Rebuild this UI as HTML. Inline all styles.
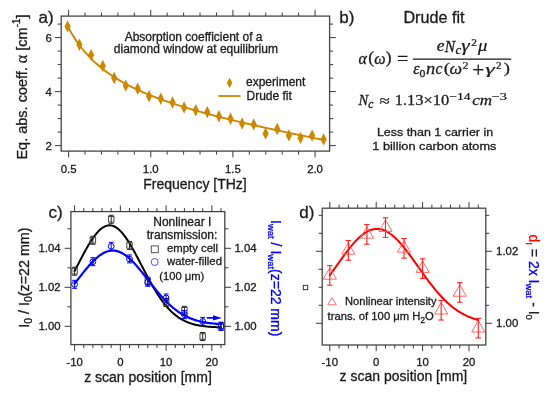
<!DOCTYPE html>
<html><head><meta charset="utf-8"><style>
html,body{margin:0;padding:0;background:#fff;width:550px;height:394px;overflow:hidden;}
svg{display:block;will-change:transform;}
</style></head><body>
<svg width="550" height="394" viewBox="0 0 550 394">
<rect x="0" y="0" width="550" height="394" fill="#fff"/>
<rect x="61.20" y="16.10" width="268.40" height="135.00" fill="none" stroke="#444444" stroke-width="1.3"/>
<line x1="68.60" y1="151.10" x2="68.60" y2="157.40" stroke="#3a3a3a" stroke-width="1"/>
<line x1="68.60" y1="16.10" x2="68.60" y2="9.80" stroke="#3a3a3a" stroke-width="1"/>
<line x1="150.75" y1="151.10" x2="150.75" y2="157.40" stroke="#3a3a3a" stroke-width="1"/>
<line x1="150.75" y1="16.10" x2="150.75" y2="9.80" stroke="#3a3a3a" stroke-width="1"/>
<line x1="232.90" y1="151.10" x2="232.90" y2="157.40" stroke="#3a3a3a" stroke-width="1"/>
<line x1="232.90" y1="16.10" x2="232.90" y2="9.80" stroke="#3a3a3a" stroke-width="1"/>
<line x1="315.05" y1="151.10" x2="315.05" y2="157.40" stroke="#3a3a3a" stroke-width="1"/>
<line x1="315.05" y1="16.10" x2="315.05" y2="9.80" stroke="#3a3a3a" stroke-width="1"/>
<line x1="85.03" y1="151.10" x2="85.03" y2="154.60" stroke="#3a3a3a" stroke-width="1"/>
<line x1="85.03" y1="16.10" x2="85.03" y2="12.60" stroke="#3a3a3a" stroke-width="1"/>
<line x1="101.46" y1="151.10" x2="101.46" y2="154.60" stroke="#3a3a3a" stroke-width="1"/>
<line x1="101.46" y1="16.10" x2="101.46" y2="12.60" stroke="#3a3a3a" stroke-width="1"/>
<line x1="117.89" y1="151.10" x2="117.89" y2="154.60" stroke="#3a3a3a" stroke-width="1"/>
<line x1="117.89" y1="16.10" x2="117.89" y2="12.60" stroke="#3a3a3a" stroke-width="1"/>
<line x1="134.32" y1="151.10" x2="134.32" y2="154.60" stroke="#3a3a3a" stroke-width="1"/>
<line x1="134.32" y1="16.10" x2="134.32" y2="12.60" stroke="#3a3a3a" stroke-width="1"/>
<line x1="167.18" y1="151.10" x2="167.18" y2="154.60" stroke="#3a3a3a" stroke-width="1"/>
<line x1="167.18" y1="16.10" x2="167.18" y2="12.60" stroke="#3a3a3a" stroke-width="1"/>
<line x1="183.61" y1="151.10" x2="183.61" y2="154.60" stroke="#3a3a3a" stroke-width="1"/>
<line x1="183.61" y1="16.10" x2="183.61" y2="12.60" stroke="#3a3a3a" stroke-width="1"/>
<line x1="200.04" y1="151.10" x2="200.04" y2="154.60" stroke="#3a3a3a" stroke-width="1"/>
<line x1="200.04" y1="16.10" x2="200.04" y2="12.60" stroke="#3a3a3a" stroke-width="1"/>
<line x1="216.47" y1="151.10" x2="216.47" y2="154.60" stroke="#3a3a3a" stroke-width="1"/>
<line x1="216.47" y1="16.10" x2="216.47" y2="12.60" stroke="#3a3a3a" stroke-width="1"/>
<line x1="249.33" y1="151.10" x2="249.33" y2="154.60" stroke="#3a3a3a" stroke-width="1"/>
<line x1="249.33" y1="16.10" x2="249.33" y2="12.60" stroke="#3a3a3a" stroke-width="1"/>
<line x1="265.76" y1="151.10" x2="265.76" y2="154.60" stroke="#3a3a3a" stroke-width="1"/>
<line x1="265.76" y1="16.10" x2="265.76" y2="12.60" stroke="#3a3a3a" stroke-width="1"/>
<line x1="282.19" y1="151.10" x2="282.19" y2="154.60" stroke="#3a3a3a" stroke-width="1"/>
<line x1="282.19" y1="16.10" x2="282.19" y2="12.60" stroke="#3a3a3a" stroke-width="1"/>
<line x1="298.62" y1="151.10" x2="298.62" y2="154.60" stroke="#3a3a3a" stroke-width="1"/>
<line x1="298.62" y1="16.10" x2="298.62" y2="12.60" stroke="#3a3a3a" stroke-width="1"/>
<line x1="54.90" y1="145.60" x2="61.20" y2="145.60" stroke="#3a3a3a" stroke-width="1"/>
<line x1="329.60" y1="145.60" x2="335.90" y2="145.60" stroke="#3a3a3a" stroke-width="1"/>
<line x1="54.90" y1="91.60" x2="61.20" y2="91.60" stroke="#3a3a3a" stroke-width="1"/>
<line x1="329.60" y1="91.60" x2="335.90" y2="91.60" stroke="#3a3a3a" stroke-width="1"/>
<line x1="54.90" y1="37.60" x2="61.20" y2="37.60" stroke="#3a3a3a" stroke-width="1"/>
<line x1="329.60" y1="37.60" x2="335.90" y2="37.60" stroke="#3a3a3a" stroke-width="1"/>
<line x1="57.70" y1="132.10" x2="61.20" y2="132.10" stroke="#3a3a3a" stroke-width="1"/>
<line x1="329.60" y1="132.10" x2="333.10" y2="132.10" stroke="#3a3a3a" stroke-width="1"/>
<line x1="57.70" y1="118.60" x2="61.20" y2="118.60" stroke="#3a3a3a" stroke-width="1"/>
<line x1="329.60" y1="118.60" x2="333.10" y2="118.60" stroke="#3a3a3a" stroke-width="1"/>
<line x1="57.70" y1="105.10" x2="61.20" y2="105.10" stroke="#3a3a3a" stroke-width="1"/>
<line x1="329.60" y1="105.10" x2="333.10" y2="105.10" stroke="#3a3a3a" stroke-width="1"/>
<line x1="57.70" y1="78.10" x2="61.20" y2="78.10" stroke="#3a3a3a" stroke-width="1"/>
<line x1="329.60" y1="78.10" x2="333.10" y2="78.10" stroke="#3a3a3a" stroke-width="1"/>
<line x1="57.70" y1="64.60" x2="61.20" y2="64.60" stroke="#3a3a3a" stroke-width="1"/>
<line x1="329.60" y1="64.60" x2="333.10" y2="64.60" stroke="#3a3a3a" stroke-width="1"/>
<line x1="57.70" y1="51.10" x2="61.20" y2="51.10" stroke="#3a3a3a" stroke-width="1"/>
<line x1="329.60" y1="51.10" x2="333.10" y2="51.10" stroke="#3a3a3a" stroke-width="1"/>
<line x1="57.70" y1="24.10" x2="61.20" y2="24.10" stroke="#3a3a3a" stroke-width="1"/>
<line x1="329.60" y1="24.10" x2="333.10" y2="24.10" stroke="#3a3a3a" stroke-width="1"/>
<text x="51.80" y="149.70" font-size="11.4" text-anchor="end" fill="#1a1a1a" stroke="#1a1a1a" stroke-width="0.3" font-family='"Liberation Sans", sans-serif' >2</text>
<text x="51.80" y="95.70" font-size="11.4" text-anchor="end" fill="#1a1a1a" stroke="#1a1a1a" stroke-width="0.3" font-family='"Liberation Sans", sans-serif' >4</text>
<text x="51.80" y="41.70" font-size="11.4" text-anchor="end" fill="#1a1a1a" stroke="#1a1a1a" stroke-width="0.3" font-family='"Liberation Sans", sans-serif' >6</text>
<text x="68.60" y="173.00" font-size="11.4" text-anchor="middle" fill="#1a1a1a" stroke="#1a1a1a" stroke-width="0.3" font-family='"Liberation Sans", sans-serif' >0.5</text>
<text x="150.75" y="173.00" font-size="11.4" text-anchor="middle" fill="#1a1a1a" stroke="#1a1a1a" stroke-width="0.3" font-family='"Liberation Sans", sans-serif' >1.0</text>
<text x="232.90" y="173.00" font-size="11.4" text-anchor="middle" fill="#1a1a1a" stroke="#1a1a1a" stroke-width="0.3" font-family='"Liberation Sans", sans-serif' >1.5</text>
<text x="315.05" y="173.00" font-size="11.4" text-anchor="middle" fill="#1a1a1a" stroke="#1a1a1a" stroke-width="0.3" font-family='"Liberation Sans", sans-serif' >2.0</text>
<text x="195.00" y="188.80" font-size="14" text-anchor="middle" fill="#1a1a1a" stroke="#1a1a1a" stroke-width="0.3" font-family='"Liberation Sans", sans-serif' >Frequency [THz]</text>
<text transform="translate(27.0,87.0) rotate(-90)" font-size="14.5" text-anchor="middle" fill="#1a1a1a" stroke="#1a1a1a" stroke-width="0.3" font-family='"Liberation Sans", sans-serif'>Eq. abs. coeff. <tspan font-family='"Liberation Serif", serif' font-size="16">&#945;</tspan> [cm<tspan font-size="10" dy="-7">-1</tspan><tspan dy="7">]</tspan></text>
<text x="193.60" y="40.50" font-size="12" text-anchor="middle" fill="#1a1a1a" stroke="#1a1a1a" stroke-width="0.3" font-family='"Liberation Sans", sans-serif' >Absorption coefficient of a</text>
<text x="195.90" y="53.30" font-size="12" text-anchor="middle" fill="#1a1a1a" stroke="#1a1a1a" stroke-width="0.3" font-family='"Liberation Sans", sans-serif' >diamond window at equilibrium</text>
<text x="38.50" y="23.30" font-size="17" text-anchor="start" fill="#1a1a1a" stroke="#1a1a1a" stroke-width="0.3" font-family='"Liberation Sans", sans-serif' >a)</text>
<path d="M67.60,26.21 L69.21,29.19 L70.82,32.03 L72.43,34.73 L74.04,37.30 L75.65,39.75 L77.26,42.10 L78.87,44.34 L80.48,46.48 L82.09,48.53 L83.70,50.51 L85.31,52.40 L86.92,54.21 L88.53,55.96 L90.14,57.65 L91.75,59.27 L93.36,60.83 L94.97,62.34 L96.58,63.80 L98.19,65.21 L99.80,66.58 L101.41,67.90 L103.02,69.18 L104.63,70.42 L106.24,71.63 L107.85,72.79 L109.46,73.93 L111.07,75.04 L112.68,76.11 L114.29,77.16 L115.90,78.18 L117.51,79.17 L119.12,80.14 L120.73,81.08 L122.34,82.00 L123.95,82.90 L125.56,83.78 L127.17,84.65 L128.78,85.49 L130.39,86.31 L132.00,87.12 L133.61,87.91 L135.22,88.68 L136.83,89.44 L138.44,90.19 L140.05,90.92 L141.66,91.64 L143.27,92.34 L144.88,93.03 L146.49,93.71 L148.10,94.38 L149.71,95.04 L151.32,95.69 L152.93,96.32 L154.54,96.95 L156.15,97.57 L157.76,98.18 L159.37,98.78 L160.98,99.37 L162.59,99.95 L164.20,100.53 L165.81,101.10 L167.42,101.66 L169.03,102.21 L170.64,102.76 L172.25,103.29 L173.86,103.83 L175.47,104.35 L177.08,104.88 L178.69,105.39 L180.30,105.90 L181.91,106.40 L183.52,106.90 L185.13,107.40 L186.74,107.88 L188.35,108.37 L189.96,108.85 L191.57,109.32 L193.18,109.79 L194.79,110.26 L196.41,110.72 L198.02,111.17 L199.63,111.63 L201.24,112.08 L202.85,112.52 L204.46,112.97 L206.07,113.40 L207.68,113.84 L209.29,114.27 L210.90,114.70 L212.51,115.13 L214.12,115.55 L215.73,115.97 L217.34,116.38 L218.95,116.80 L220.56,117.21 L222.17,117.62 L223.78,118.02 L225.39,118.43 L227.00,118.83 L228.61,119.23 L230.22,119.62 L231.83,120.02 L233.44,120.41 L235.05,120.80 L236.66,121.18 L238.27,121.57 L239.88,121.95 L241.49,122.33 L243.10,122.71 L244.71,123.09 L246.32,123.47 L247.93,123.84 L249.54,124.21 L251.15,124.58 L252.76,124.95 L254.37,125.32 L255.98,125.68 L257.59,126.04 L259.20,126.41 L260.81,126.77 L262.42,127.13 L264.03,127.48 L265.64,127.84 L267.25,128.19 L268.86,128.55 L270.47,128.90 L272.08,129.25 L273.69,129.60 L275.30,129.95 L276.91,130.30 L278.52,130.64 L280.13,130.99 L281.74,131.33 L283.35,131.67 L284.96,132.01 L286.57,132.35 L288.18,132.69 L289.79,133.03 L291.40,133.37 L293.01,133.71 L294.62,134.04 L296.23,134.38 L297.84,134.71 L299.45,135.04 L301.06,135.37 L302.67,135.70 L304.28,136.03 L305.89,136.36 L307.50,136.69 L309.11,137.02 L310.72,137.34 L312.33,137.67 L313.94,137.99 L315.55,138.32 L317.16,138.64 L318.77,138.97 L320.38,139.29 L321.99,139.61 L323.60,139.93" fill="none" stroke="#cc8800" stroke-width="1.9" stroke-linejoin="round" stroke-linecap="round"/>
<path d="M67.60,20.20 L70.70,26.40 L67.60,32.60 L64.50,26.40 Z" fill="#cc8800"/>
<path d="M79.40,38.50 L82.50,44.70 L79.40,50.90 L76.30,44.70 Z" fill="#cc8800"/>
<path d="M91.10,48.90 L94.20,55.10 L91.10,61.30 L88.00,55.10 Z" fill="#cc8800"/>
<path d="M102.80,59.80 L105.90,66.00 L102.80,72.20 L99.70,66.00 Z" fill="#cc8800"/>
<path d="M114.20,71.80 L117.30,78.00 L114.20,84.20 L111.10,78.00 Z" fill="#cc8800"/>
<path d="M125.80,79.40 L128.90,85.60 L125.80,91.80 L122.70,85.60 Z" fill="#cc8800"/>
<path d="M137.70,82.50 L140.80,88.70 L137.70,94.90 L134.60,88.70 Z" fill="#cc8800"/>
<path d="M149.10,90.00 L152.20,96.20 L149.10,102.40 L146.00,96.20 Z" fill="#cc8800"/>
<path d="M160.80,92.60 L163.90,98.80 L160.80,105.00 L157.70,98.80 Z" fill="#cc8800"/>
<path d="M172.50,96.30 L175.60,102.50 L172.50,108.70 L169.40,102.50 Z" fill="#cc8800"/>
<path d="M184.10,101.20 L187.20,107.40 L184.10,113.60 L181.00,107.40 Z" fill="#cc8800"/>
<path d="M195.70,104.00 L198.80,110.20 L195.70,116.40 L192.60,110.20 Z" fill="#cc8800"/>
<path d="M207.30,105.90 L210.40,112.10 L207.30,118.30 L204.20,112.10 Z" fill="#cc8800"/>
<path d="M218.90,110.10 L222.00,116.30 L218.90,122.50 L215.80,116.30 Z" fill="#cc8800"/>
<path d="M230.50,112.60 L233.60,118.80 L230.50,125.00 L227.40,118.80 Z" fill="#cc8800"/>
<path d="M242.10,117.30 L245.20,123.50 L242.10,129.70 L239.00,123.50 Z" fill="#cc8800"/>
<path d="M253.70,118.20 L256.80,124.40 L253.70,130.60 L250.60,124.40 Z" fill="#cc8800"/>
<path d="M265.60,127.40 L268.70,133.60 L265.60,139.80 L262.50,133.60 Z" fill="#cc8800"/>
<path d="M277.20,122.80 L280.30,129.00 L277.20,135.20 L274.10,129.00 Z" fill="#cc8800"/>
<path d="M288.90,129.20 L292.00,135.40 L288.90,141.60 L285.80,135.40 Z" fill="#cc8800"/>
<path d="M300.50,131.70 L303.60,137.90 L300.50,144.10 L297.40,137.90 Z" fill="#cc8800"/>
<path d="M312.10,129.40 L315.20,135.60 L312.10,141.80 L309.00,135.60 Z" fill="#cc8800"/>
<path d="M323.60,133.20 L326.70,139.40 L323.60,145.60 L320.50,139.40 Z" fill="#cc8800"/>
<path d="M229.60,77.70 L232.40,82.90 L229.60,88.10 L226.80,82.90 Z" fill="#cc8800"/>
<text x="246.00" y="86.20" font-size="12" text-anchor="start" fill="#1a1a1a" stroke="#1a1a1a" stroke-width="0.3" font-family='"Liberation Sans", sans-serif' >experiment</text>
<line x1="218.30" y1="96.00" x2="240.50" y2="96.00" stroke="#cc8800" stroke-width="1.8"/>
<text x="246.50" y="99.90" font-size="12" text-anchor="start" fill="#1a1a1a" stroke="#1a1a1a" stroke-width="0.3" font-family='"Liberation Sans", sans-serif' >Drude fit</text>
<text x="339.30" y="23.20" font-size="17" text-anchor="start" fill="#1a1a1a" stroke="#1a1a1a" stroke-width="0.3" font-family='"Liberation Sans", sans-serif' >b)</text>
<text x="403.40" y="22.50" font-size="15.6" text-anchor="start" fill="#1a1a1a" stroke="#1a1a1a" stroke-width="0.3" font-family='"Liberation Sans", sans-serif' textLength="61.2" lengthAdjust="spacingAndGlyphs">Drude fit</text>
<text x="376.90" y="135.70" font-size="11.6" text-anchor="start" fill="#1a1a1a" stroke="#1a1a1a" stroke-width="0.3" font-family='"Liberation Sans", sans-serif' textLength="116.2" lengthAdjust="spacingAndGlyphs">Less than 1 carrier in</text>
<text x="372.30" y="150.20" font-size="11.6" text-anchor="start" fill="#1a1a1a" stroke="#1a1a1a" stroke-width="0.3" font-family='"Liberation Sans", sans-serif' textLength="124.1" lengthAdjust="spacingAndGlyphs">1 billion carbon atoms</text>
<text transform="translate(358.52,63.74) scale(0.977,1)" font-size="16.39" font-family='"Liberation Serif", serif' font-style="italic" fill="#1a1a1a" stroke="#1a1a1a" stroke-width="0.31">&#945;</text>
<text transform="translate(368.33,62.94) scale(1.076,1)" font-size="16.34" font-family='"Liberation Serif", serif' fill="#1a1a1a" stroke="#1a1a1a" stroke-width="0.28">(</text>
<text transform="translate(374.25,63.73) scale(0.973,1)" font-size="16.53" font-family='"Liberation Serif", serif' font-style="italic" fill="#1a1a1a" stroke="#1a1a1a" stroke-width="0.31">&#969;</text>
<text transform="translate(385.84,62.94) scale(1.068,1)" font-size="16.34" font-family='"Liberation Serif", serif' fill="#1a1a1a" stroke="#1a1a1a" stroke-width="0.28">)</text>
<text transform="translate(396.90,65.44) scale(1.109,1)" font-size="18.00" font-family='"Liberation Serif", serif' fill="#1a1a1a" stroke="#1a1a1a" stroke-width="0.27">=</text>
<text transform="translate(436.78,51.44) scale(1.086,1)" font-size="15.98" font-family='"Liberation Serif", serif' font-style="italic" fill="#1a1a1a" stroke="#1a1a1a" stroke-width="0.28">e</text>
<text transform="translate(444.72,51.60) scale(0.975,1)" font-size="15.90" font-family='"Liberation Serif", serif' font-style="italic" fill="#1a1a1a" stroke="#1a1a1a" stroke-width="0.31">N</text>
<text transform="translate(455.41,54.28) scale(1.075,1)" font-size="12.03" font-family='"Liberation Serif", serif' font-style="italic" fill="#1a1a1a" stroke="#1a1a1a" stroke-width="0.28">c</text>
<text transform="translate(461.22,51.26) scale(1.354,1)" font-size="15.77" font-family='"Liberation Serif", serif' font-style="italic" fill="#1a1a1a" stroke="#1a1a1a" stroke-width="0.22">&#947;</text>
<text transform="translate(471.20,45.90) scale(1.182,1)" font-size="9.52" font-family='"Liberation Serif", serif' fill="#1a1a1a" stroke="#1a1a1a" stroke-width="0.25">2</text>
<text transform="translate(478.00,51.23) scale(1.182,1)" font-size="15.73" font-family='"Liberation Serif", serif' font-style="italic" fill="#1a1a1a" stroke="#1a1a1a" stroke-width="0.25">&#956;</text>
<text transform="translate(413.25,73.74) scale(1.011,1)" font-size="15.77" font-family='"Liberation Serif", serif' font-style="italic" fill="#1a1a1a" stroke="#1a1a1a" stroke-width="0.30">&#949;</text>
<text transform="translate(419.45,77.29) scale(1.063,1)" font-size="11.09" font-family='"Liberation Serif", serif' fill="#1a1a1a" stroke="#1a1a1a" stroke-width="0.28">0</text>
<text transform="translate(426.03,73.90) scale(1.148,1)" font-size="16.10" font-family='"Liberation Serif", serif' font-style="italic" fill="#1a1a1a" stroke="#1a1a1a" stroke-width="0.26">n</text>
<text transform="translate(435.44,73.74) scale(0.978,1)" font-size="15.77" font-family='"Liberation Serif", serif' font-style="italic" fill="#1a1a1a" stroke="#1a1a1a" stroke-width="0.31">c</text>
<text transform="translate(443.78,73.37) scale(1.231,1)" font-size="15.23" font-family='"Liberation Serif", serif' fill="#1a1a1a" stroke="#1a1a1a" stroke-width="0.24">(</text>
<text transform="translate(449.59,74.04) scale(1.122,1)" font-size="15.90" font-family='"Liberation Serif", serif' font-style="italic" fill="#1a1a1a" stroke="#1a1a1a" stroke-width="0.27">&#969;</text>
<text transform="translate(462.47,69.30) scale(1.261,1)" font-size="9.52" font-family='"Liberation Serif", serif' fill="#1a1a1a" stroke="#1a1a1a" stroke-width="0.24">2</text>
<text transform="translate(472.57,77.22) scale(1.000,1)" font-size="20.60" font-family='"Liberation Serif", serif' fill="#1a1a1a" stroke="#1a1a1a" stroke-width="0.30">+</text>
<text transform="translate(485.27,73.85) scale(1.574,1)" font-size="15.33" font-family='"Liberation Serif", serif' font-style="italic" fill="#1a1a1a" stroke="#1a1a1a" stroke-width="0.19">&#947;</text>
<text transform="translate(496.00,69.30) scale(1.182,1)" font-size="9.52" font-family='"Liberation Serif", serif' fill="#1a1a1a" stroke="#1a1a1a" stroke-width="0.25">2</text>
<text transform="translate(503.80,73.37) scale(1.221,1)" font-size="15.23" font-family='"Liberation Serif", serif' fill="#1a1a1a" stroke="#1a1a1a" stroke-width="0.25">)</text>
<text transform="translate(358.42,105.40) scale(0.942,1)" font-size="15.44" font-family='"Liberation Serif", serif' font-style="italic" fill="#1a1a1a" stroke="#1a1a1a" stroke-width="0.32">N</text>
<text transform="translate(368.26,107.87) scale(0.890,1)" font-size="12.86" font-family='"Liberation Serif", serif' font-style="italic" fill="#1a1a1a" stroke="#1a1a1a" stroke-width="0.34">c</text>
<text transform="translate(379.57,106.13) scale(1.193,1)" font-size="15.76" font-family='"Liberation Serif", serif' fill="#1a1a1a" stroke="#1a1a1a" stroke-width="0.25">&#8776;</text>
<text transform="translate(394.65,105.29) scale(1.087,1)" font-size="15.15" font-family='"Liberation Serif", serif' fill="#1a1a1a" stroke="#1a1a1a" stroke-width="0.28">1.13&#215;10</text>
<text transform="translate(449.42,100.10) scale(1.315,1)" font-size="10.30" font-family='"Liberation Serif", serif' fill="#1a1a1a" stroke="#1a1a1a" stroke-width="0.23">&#8722;14</text>
<text transform="translate(472.29,105.36) scale(1.188,1)" font-size="14.32" font-family='"Liberation Serif", serif' font-style="italic" fill="#1a1a1a" stroke="#1a1a1a" stroke-width="0.25">cm</text>
<text transform="translate(491.78,100.00) scale(1.420,1)" font-size="10.12" font-family='"Liberation Serif", serif' fill="#1a1a1a" stroke="#1a1a1a" stroke-width="0.21">&#8722;3</text>
<line x1="412.9" y1="59.1" x2="511.2" y2="59.1" stroke="#1a1a1a" stroke-width="1.1"/>
<rect x="70.90" y="211.60" width="153.90" height="133.00" fill="none" stroke="#444444" stroke-width="1.3"/>
<line x1="74.60" y1="344.60" x2="74.60" y2="350.90" stroke="#3a3a3a" stroke-width="1"/>
<line x1="74.60" y1="211.60" x2="74.60" y2="205.30" stroke="#3a3a3a" stroke-width="1"/>
<line x1="120.35" y1="344.60" x2="120.35" y2="350.90" stroke="#3a3a3a" stroke-width="1"/>
<line x1="120.35" y1="211.60" x2="120.35" y2="205.30" stroke="#3a3a3a" stroke-width="1"/>
<line x1="166.10" y1="344.60" x2="166.10" y2="350.90" stroke="#3a3a3a" stroke-width="1"/>
<line x1="166.10" y1="211.60" x2="166.10" y2="205.30" stroke="#3a3a3a" stroke-width="1"/>
<line x1="211.85" y1="344.60" x2="211.85" y2="350.90" stroke="#3a3a3a" stroke-width="1"/>
<line x1="211.85" y1="211.60" x2="211.85" y2="205.30" stroke="#3a3a3a" stroke-width="1"/>
<line x1="83.75" y1="344.60" x2="83.75" y2="348.10" stroke="#3a3a3a" stroke-width="1"/>
<line x1="83.75" y1="211.60" x2="83.75" y2="208.10" stroke="#3a3a3a" stroke-width="1"/>
<line x1="92.90" y1="344.60" x2="92.90" y2="348.10" stroke="#3a3a3a" stroke-width="1"/>
<line x1="92.90" y1="211.60" x2="92.90" y2="208.10" stroke="#3a3a3a" stroke-width="1"/>
<line x1="102.05" y1="344.60" x2="102.05" y2="348.10" stroke="#3a3a3a" stroke-width="1"/>
<line x1="102.05" y1="211.60" x2="102.05" y2="208.10" stroke="#3a3a3a" stroke-width="1"/>
<line x1="111.20" y1="344.60" x2="111.20" y2="348.10" stroke="#3a3a3a" stroke-width="1"/>
<line x1="111.20" y1="211.60" x2="111.20" y2="208.10" stroke="#3a3a3a" stroke-width="1"/>
<line x1="129.50" y1="344.60" x2="129.50" y2="348.10" stroke="#3a3a3a" stroke-width="1"/>
<line x1="129.50" y1="211.60" x2="129.50" y2="208.10" stroke="#3a3a3a" stroke-width="1"/>
<line x1="138.65" y1="344.60" x2="138.65" y2="348.10" stroke="#3a3a3a" stroke-width="1"/>
<line x1="138.65" y1="211.60" x2="138.65" y2="208.10" stroke="#3a3a3a" stroke-width="1"/>
<line x1="147.80" y1="344.60" x2="147.80" y2="348.10" stroke="#3a3a3a" stroke-width="1"/>
<line x1="147.80" y1="211.60" x2="147.80" y2="208.10" stroke="#3a3a3a" stroke-width="1"/>
<line x1="156.95" y1="344.60" x2="156.95" y2="348.10" stroke="#3a3a3a" stroke-width="1"/>
<line x1="156.95" y1="211.60" x2="156.95" y2="208.10" stroke="#3a3a3a" stroke-width="1"/>
<line x1="175.25" y1="344.60" x2="175.25" y2="348.10" stroke="#3a3a3a" stroke-width="1"/>
<line x1="175.25" y1="211.60" x2="175.25" y2="208.10" stroke="#3a3a3a" stroke-width="1"/>
<line x1="184.40" y1="344.60" x2="184.40" y2="348.10" stroke="#3a3a3a" stroke-width="1"/>
<line x1="184.40" y1="211.60" x2="184.40" y2="208.10" stroke="#3a3a3a" stroke-width="1"/>
<line x1="193.55" y1="344.60" x2="193.55" y2="348.10" stroke="#3a3a3a" stroke-width="1"/>
<line x1="193.55" y1="211.60" x2="193.55" y2="208.10" stroke="#3a3a3a" stroke-width="1"/>
<line x1="202.70" y1="344.60" x2="202.70" y2="348.10" stroke="#3a3a3a" stroke-width="1"/>
<line x1="202.70" y1="211.60" x2="202.70" y2="208.10" stroke="#3a3a3a" stroke-width="1"/>
<line x1="221.00" y1="344.60" x2="221.00" y2="348.10" stroke="#3a3a3a" stroke-width="1"/>
<line x1="221.00" y1="211.60" x2="221.00" y2="208.10" stroke="#3a3a3a" stroke-width="1"/>
<line x1="64.60" y1="326.30" x2="70.90" y2="326.30" stroke="#3a3a3a" stroke-width="1"/>
<line x1="224.80" y1="326.30" x2="231.10" y2="326.30" stroke="#3a3a3a" stroke-width="1"/>
<line x1="64.60" y1="287.30" x2="70.90" y2="287.30" stroke="#3a3a3a" stroke-width="1"/>
<line x1="224.80" y1="287.30" x2="231.10" y2="287.30" stroke="#3a3a3a" stroke-width="1"/>
<line x1="64.60" y1="248.30" x2="70.90" y2="248.30" stroke="#3a3a3a" stroke-width="1"/>
<line x1="224.80" y1="248.30" x2="231.10" y2="248.30" stroke="#3a3a3a" stroke-width="1"/>
<line x1="67.40" y1="306.80" x2="70.90" y2="306.80" stroke="#3a3a3a" stroke-width="1"/>
<line x1="224.80" y1="306.80" x2="228.30" y2="306.80" stroke="#3a3a3a" stroke-width="1"/>
<line x1="67.40" y1="267.80" x2="70.90" y2="267.80" stroke="#3a3a3a" stroke-width="1"/>
<line x1="224.80" y1="267.80" x2="228.30" y2="267.80" stroke="#3a3a3a" stroke-width="1"/>
<line x1="67.40" y1="228.80" x2="70.90" y2="228.80" stroke="#3a3a3a" stroke-width="1"/>
<line x1="224.80" y1="228.80" x2="228.30" y2="228.80" stroke="#3a3a3a" stroke-width="1"/>
<text x="60.70" y="330.40" font-size="11.4" text-anchor="end" fill="#1a1a1a" stroke="#1a1a1a" stroke-width="0.3" font-family='"Liberation Sans", sans-serif' >1.00</text>
<text x="234.50" y="330.40" font-size="11.4" text-anchor="start" fill="#1a1a1a" stroke="#1a1a1a" stroke-width="0.3" font-family='"Liberation Sans", sans-serif' >1.00</text>
<text x="60.70" y="291.40" font-size="11.4" text-anchor="end" fill="#1a1a1a" stroke="#1a1a1a" stroke-width="0.3" font-family='"Liberation Sans", sans-serif' >1.02</text>
<text x="234.50" y="291.40" font-size="11.4" text-anchor="start" fill="#1a1a1a" stroke="#1a1a1a" stroke-width="0.3" font-family='"Liberation Sans", sans-serif' >1.02</text>
<text x="60.70" y="252.40" font-size="11.4" text-anchor="end" fill="#1a1a1a" stroke="#1a1a1a" stroke-width="0.3" font-family='"Liberation Sans", sans-serif' >1.04</text>
<text x="234.50" y="252.40" font-size="11.4" text-anchor="start" fill="#1a1a1a" stroke="#1a1a1a" stroke-width="0.3" font-family='"Liberation Sans", sans-serif' >1.04</text>
<text x="74.60" y="365.80" font-size="11.4" text-anchor="middle" fill="#1a1a1a" stroke="#1a1a1a" stroke-width="0.3" font-family='"Liberation Sans", sans-serif' >-10</text>
<text x="120.35" y="365.80" font-size="11.4" text-anchor="middle" fill="#1a1a1a" stroke="#1a1a1a" stroke-width="0.3" font-family='"Liberation Sans", sans-serif' >0</text>
<text x="166.10" y="365.80" font-size="11.4" text-anchor="middle" fill="#1a1a1a" stroke="#1a1a1a" stroke-width="0.3" font-family='"Liberation Sans", sans-serif' >10</text>
<text x="211.85" y="365.80" font-size="11.4" text-anchor="middle" fill="#1a1a1a" stroke="#1a1a1a" stroke-width="0.3" font-family='"Liberation Sans", sans-serif' >20</text>
<text x="148.00" y="381.70" font-size="14" text-anchor="middle" fill="#1a1a1a" stroke="#1a1a1a" stroke-width="0.3" font-family='"Liberation Sans", sans-serif' >z scan position [mm]</text>
<text x="48.60" y="217.80" font-size="17" text-anchor="start" fill="#1a1a1a" stroke="#1a1a1a" stroke-width="0.3" font-family='"Liberation Sans", sans-serif' >c)</text>
<text transform="translate(28.5,277.6) rotate(-90)" font-size="14.3" text-anchor="middle" fill="#1a1a1a" stroke="#1a1a1a" stroke-width="0.3" font-family='"Liberation Sans", sans-serif'>I<tspan font-size="10.5" dy="3">0</tspan><tspan dy="-3"> / I</tspan><tspan font-size="10.5" dy="3">0</tspan><tspan dy="-3">(z=22 mm)</tspan></text>
<text transform="translate(270.8,278.2) rotate(90)" font-size="14" text-anchor="middle" fill="#0000ee" stroke="#0000ee" stroke-width="0.3" font-family='"Liberation Sans", sans-serif'>I<tspan font-size="9.5" dy="3">wat</tspan><tspan dy="-3"> / I</tspan><tspan font-size="9.5" dy="3">wat</tspan><tspan dy="-3">(z=22 mm)</tspan></text>
<text x="182.30" y="225.80" font-size="12" text-anchor="middle" fill="#1a1a1a" stroke="#1a1a1a" stroke-width="0.3" font-family='"Liberation Sans", sans-serif' >Nonlinear I</text>
<text x="182.00" y="239.40" font-size="12" text-anchor="middle" fill="#1a1a1a" stroke="#1a1a1a" stroke-width="0.3" font-family='"Liberation Sans", sans-serif' >transmission:</text>
<rect x="151.3" y="245.9" width="7" height="6.8" fill="none" stroke="#555" stroke-width="1"/>
<text x="167.00" y="252.00" font-size="11.6" text-anchor="start" fill="#1a1a1a" stroke="#1a1a1a" stroke-width="0.3" font-family='"Liberation Sans", sans-serif' textLength="51.1" lengthAdjust="spacingAndGlyphs">empty cell</text>
<circle cx="154.7" cy="262.0" r="3.5" fill="none" stroke="#4c4cff" stroke-width="1"/>
<text x="167.00" y="265.30" font-size="11.6" text-anchor="start" fill="#1a1a1a" stroke="#1a1a1a" stroke-width="0.3" font-family='"Liberation Sans", sans-serif' textLength="55.0" lengthAdjust="spacingAndGlyphs">water-filled</text>
<text x="159.20" y="279.50" font-size="11.6" text-anchor="start" fill="#1a1a1a" stroke="#1a1a1a" stroke-width="0.3" font-family='"Liberation Sans", sans-serif' textLength="45.1" lengthAdjust="spacingAndGlyphs">(100 &#956;m)</text>
<path d="M74.60,271.05 L75.58,269.16 L76.57,267.27 L77.55,265.37 L78.53,263.47 L79.51,261.58 L80.50,259.69 L81.48,257.82 L82.46,255.96 L83.44,254.12 L84.43,252.30 L85.41,250.51 L86.39,248.75 L87.37,247.03 L88.36,245.35 L89.34,243.71 L90.32,242.12 L91.30,240.58 L92.29,239.09 L93.27,237.66 L94.25,236.30 L95.23,235.00 L96.22,233.77 L97.20,232.62 L98.18,231.54 L99.16,230.54 L100.15,229.62 L101.13,228.78 L102.11,228.03 L103.09,227.37 L104.08,226.80 L105.06,226.32 L106.04,225.93 L107.02,225.64 L108.01,225.44 L108.99,225.34 L109.97,225.33 L110.95,225.42 L111.94,225.60 L112.92,225.88 L113.90,226.26 L114.88,226.72 L115.87,227.28 L116.85,227.93 L117.83,228.67 L118.81,229.49 L119.80,230.40 L120.78,231.39 L121.76,232.46 L122.74,233.61 L123.73,234.82 L124.71,236.11 L125.69,237.47 L126.68,238.89 L127.66,240.36 L128.64,241.90 L129.62,243.48 L130.61,245.11 L131.59,246.79 L132.57,248.51 L133.55,250.26 L134.54,252.05 L135.52,253.86 L136.50,255.70 L137.48,257.55 L138.47,259.43 L139.45,261.31 L140.43,263.20 L141.41,265.10 L142.40,267.00 L143.38,268.89 L144.36,270.78 L145.34,272.66 L146.33,274.53 L147.31,276.38 L148.29,278.22 L149.27,280.03 L150.26,281.82 L151.24,283.58 L152.22,285.31 L153.20,287.02 L154.19,288.69 L155.17,290.33 L156.15,291.93 L157.13,293.49 L158.12,295.02 L159.10,296.51 L160.08,297.96 L161.06,299.36 L162.05,300.73 L163.03,302.05 L164.01,303.33 L164.99,304.57 L165.98,305.76 L166.96,306.91 L167.94,308.02 L168.92,309.09 L169.91,310.11 L170.89,311.10 L171.87,312.04 L172.86,312.94 L173.84,313.81 L174.82,314.63 L175.80,315.42 L176.79,316.17 L177.77,316.88 L178.75,317.56 L179.73,318.20 L180.72,318.81 L181.70,319.39 L182.68,319.93 L183.66,320.45 L184.65,320.94 L185.63,321.40 L186.61,321.83 L187.59,322.24 L188.58,322.63 L189.56,322.99 L190.54,323.32 L191.52,323.64 L192.51,323.94 L193.49,324.21 L194.47,324.47 L195.45,324.72 L196.44,324.94 L197.42,325.15 L198.40,325.34 L199.38,325.53 L200.37,325.69 L201.35,325.85 L202.33,325.99 L203.31,326.13 L204.30,326.25 L205.28,326.36 L206.26,326.47 L207.24,326.57 L208.23,326.65 L209.21,326.74 L210.19,326.81 L211.17,326.88 L212.16,326.94 L213.14,327.00 L214.12,327.05 L215.10,327.10 L216.09,327.15 L217.07,327.19 L218.05,327.22 L219.03,327.26 L220.02,327.29 L221.00,327.31" fill="none" stroke="#000" stroke-width="2.0" stroke-linejoin="round" stroke-linecap="round"/>
<path d="M74.60,283.60 L75.58,282.35 L76.57,281.09 L77.55,279.84 L78.53,278.58 L79.51,277.32 L80.50,276.07 L81.48,274.82 L82.46,273.58 L83.44,272.35 L84.43,271.14 L85.41,269.94 L86.39,268.75 L87.37,267.59 L88.36,266.44 L89.34,265.32 L90.32,264.23 L91.30,263.16 L92.29,262.13 L93.27,261.12 L94.25,260.16 L95.23,259.22 L96.22,258.33 L97.20,257.48 L98.18,256.67 L99.16,255.90 L100.15,255.18 L101.13,254.50 L102.11,253.88 L103.09,253.30 L104.08,252.78 L105.06,252.31 L106.04,251.90 L107.02,251.54 L108.01,251.23 L108.99,250.98 L109.97,250.79 L110.95,250.66 L111.94,250.58 L112.92,250.56 L113.90,250.60 L114.88,250.70 L115.87,250.85 L116.85,251.07 L117.83,251.34 L118.81,251.66 L119.80,252.04 L120.78,252.48 L121.76,252.97 L122.74,253.51 L123.73,254.10 L124.71,254.74 L125.69,255.44 L126.68,256.17 L127.66,256.96 L128.64,257.78 L129.62,258.65 L130.61,259.56 L131.59,260.51 L132.57,261.49 L133.55,262.50 L134.54,263.55 L135.52,264.63 L136.50,265.73 L137.48,266.86 L138.47,268.01 L139.45,269.18 L140.43,270.37 L141.41,271.58 L142.40,272.80 L143.38,274.03 L144.36,275.28 L145.34,276.52 L146.33,277.78 L147.31,279.04 L148.29,280.30 L149.27,281.55 L150.26,282.81 L151.24,284.06 L152.22,285.30 L153.20,286.54 L154.19,287.77 L155.17,288.98 L156.15,290.18 L157.13,291.37 L158.12,292.54 L159.10,293.70 L160.08,294.84 L161.06,295.96 L162.05,297.05 L163.03,298.13 L164.01,299.19 L164.99,300.22 L165.98,301.23 L166.96,302.21 L167.94,303.18 L168.92,304.11 L169.91,305.02 L170.89,305.91 L171.87,306.77 L172.86,307.61 L173.84,308.41 L174.82,309.20 L175.80,309.95 L176.79,310.69 L177.77,311.39 L178.75,312.07 L179.73,312.73 L180.72,313.36 L181.70,313.96 L182.68,314.54 L183.66,315.10 L184.65,315.64 L185.63,316.15 L186.61,316.64 L187.59,317.11 L188.58,317.55 L189.56,317.98 L190.54,318.38 L191.52,318.77 L192.51,319.14 L193.49,319.49 L194.47,319.82 L195.45,320.13 L196.44,320.43 L197.42,320.71 L198.40,320.98 L199.38,321.23 L200.37,321.47 L201.35,321.69 L202.33,321.90 L203.31,322.10 L204.30,322.29 L205.28,322.47 L206.26,322.63 L207.24,322.79 L208.23,322.93 L209.21,323.07 L210.19,323.19 L211.17,323.31 L212.16,323.42 L213.14,323.53 L214.12,323.62 L215.10,323.71 L216.09,323.80 L217.07,323.88 L218.05,323.95 L219.03,324.02 L220.02,324.08 L221.00,324.14" fill="none" stroke="#0000ff" stroke-width="2.2" stroke-linejoin="round" stroke-linecap="round"/>
<line x1="74.60" y1="267.20" x2="74.60" y2="275.20" stroke="#222" stroke-width="1"/>
<line x1="72.10" y1="267.20" x2="77.10" y2="267.20" stroke="#222" stroke-width="1"/>
<line x1="72.10" y1="275.20" x2="77.10" y2="275.20" stroke="#222" stroke-width="1"/>
<rect x="71.90" y="268.40" width="5.4" height="5.6" fill="none" stroke="#444" stroke-width="1"/>
<line x1="74.60" y1="280.30" x2="74.60" y2="288.30" stroke="#0000ff" stroke-width="1"/>
<line x1="72.10" y1="280.30" x2="77.10" y2="280.30" stroke="#0000ff" stroke-width="1"/>
<line x1="72.10" y1="288.30" x2="77.10" y2="288.30" stroke="#0000ff" stroke-width="1"/>
<circle cx="74.60" cy="284.30" r="2.9" fill="none" stroke="#0000ff" stroke-width="1"/>
<line x1="92.90" y1="236.30" x2="92.90" y2="244.30" stroke="#222" stroke-width="1"/>
<line x1="90.40" y1="236.30" x2="95.40" y2="236.30" stroke="#222" stroke-width="1"/>
<line x1="90.40" y1="244.30" x2="95.40" y2="244.30" stroke="#222" stroke-width="1"/>
<rect x="90.20" y="237.50" width="5.4" height="5.6" fill="none" stroke="#444" stroke-width="1"/>
<line x1="92.90" y1="257.70" x2="92.90" y2="265.70" stroke="#0000ff" stroke-width="1"/>
<line x1="90.40" y1="257.70" x2="95.40" y2="257.70" stroke="#0000ff" stroke-width="1"/>
<line x1="90.40" y1="265.70" x2="95.40" y2="265.70" stroke="#0000ff" stroke-width="1"/>
<circle cx="92.90" cy="261.70" r="2.9" fill="none" stroke="#0000ff" stroke-width="1"/>
<line x1="111.20" y1="215.30" x2="111.20" y2="223.30" stroke="#222" stroke-width="1"/>
<line x1="108.70" y1="215.30" x2="113.70" y2="215.30" stroke="#222" stroke-width="1"/>
<line x1="108.70" y1="223.30" x2="113.70" y2="223.30" stroke="#222" stroke-width="1"/>
<rect x="108.50" y="216.50" width="5.4" height="5.6" fill="none" stroke="#444" stroke-width="1"/>
<line x1="111.20" y1="242.30" x2="111.20" y2="250.30" stroke="#0000ff" stroke-width="1"/>
<line x1="108.70" y1="242.30" x2="113.70" y2="242.30" stroke="#0000ff" stroke-width="1"/>
<line x1="108.70" y1="250.30" x2="113.70" y2="250.30" stroke="#0000ff" stroke-width="1"/>
<circle cx="111.20" cy="246.30" r="2.9" fill="none" stroke="#0000ff" stroke-width="1"/>
<line x1="129.50" y1="241.40" x2="129.50" y2="249.40" stroke="#222" stroke-width="1"/>
<line x1="127.00" y1="241.40" x2="132.00" y2="241.40" stroke="#222" stroke-width="1"/>
<line x1="127.00" y1="249.40" x2="132.00" y2="249.40" stroke="#222" stroke-width="1"/>
<rect x="126.80" y="242.60" width="5.4" height="5.6" fill="none" stroke="#444" stroke-width="1"/>
<line x1="129.50" y1="254.90" x2="129.50" y2="262.90" stroke="#0000ff" stroke-width="1"/>
<line x1="127.00" y1="254.90" x2="132.00" y2="254.90" stroke="#0000ff" stroke-width="1"/>
<line x1="127.00" y1="262.90" x2="132.00" y2="262.90" stroke="#0000ff" stroke-width="1"/>
<circle cx="129.50" cy="258.90" r="2.9" fill="none" stroke="#0000ff" stroke-width="1"/>
<line x1="147.80" y1="277.20" x2="147.80" y2="285.20" stroke="#222" stroke-width="1"/>
<line x1="145.30" y1="277.20" x2="150.30" y2="277.20" stroke="#222" stroke-width="1"/>
<line x1="145.30" y1="285.20" x2="150.30" y2="285.20" stroke="#222" stroke-width="1"/>
<rect x="145.10" y="278.40" width="5.4" height="5.6" fill="none" stroke="#444" stroke-width="1"/>
<line x1="147.80" y1="278.30" x2="147.80" y2="286.30" stroke="#0000ff" stroke-width="1"/>
<line x1="145.30" y1="278.30" x2="150.30" y2="278.30" stroke="#0000ff" stroke-width="1"/>
<line x1="145.30" y1="286.30" x2="150.30" y2="286.30" stroke="#0000ff" stroke-width="1"/>
<circle cx="147.80" cy="282.30" r="2.9" fill="none" stroke="#0000ff" stroke-width="1"/>
<line x1="166.10" y1="298.50" x2="166.10" y2="306.50" stroke="#222" stroke-width="1"/>
<line x1="163.60" y1="298.50" x2="168.60" y2="298.50" stroke="#222" stroke-width="1"/>
<line x1="163.60" y1="306.50" x2="168.60" y2="306.50" stroke="#222" stroke-width="1"/>
<rect x="163.40" y="299.70" width="5.4" height="5.6" fill="none" stroke="#444" stroke-width="1"/>
<line x1="166.10" y1="294.00" x2="166.10" y2="302.00" stroke="#0000ff" stroke-width="1"/>
<line x1="163.60" y1="294.00" x2="168.60" y2="294.00" stroke="#0000ff" stroke-width="1"/>
<line x1="163.60" y1="302.00" x2="168.60" y2="302.00" stroke="#0000ff" stroke-width="1"/>
<circle cx="166.10" cy="298.00" r="2.9" fill="none" stroke="#0000ff" stroke-width="1"/>
<line x1="184.40" y1="306.30" x2="184.40" y2="314.30" stroke="#222" stroke-width="1"/>
<line x1="181.90" y1="306.30" x2="186.90" y2="306.30" stroke="#222" stroke-width="1"/>
<line x1="181.90" y1="314.30" x2="186.90" y2="314.30" stroke="#222" stroke-width="1"/>
<rect x="181.70" y="307.50" width="5.4" height="5.6" fill="none" stroke="#444" stroke-width="1"/>
<line x1="184.40" y1="310.60" x2="184.40" y2="318.60" stroke="#0000ff" stroke-width="1"/>
<line x1="181.90" y1="310.60" x2="186.90" y2="310.60" stroke="#0000ff" stroke-width="1"/>
<line x1="181.90" y1="318.60" x2="186.90" y2="318.60" stroke="#0000ff" stroke-width="1"/>
<circle cx="184.40" cy="314.60" r="2.9" fill="none" stroke="#0000ff" stroke-width="1"/>
<line x1="202.70" y1="332.50" x2="202.70" y2="340.50" stroke="#222" stroke-width="1"/>
<line x1="200.20" y1="332.50" x2="205.20" y2="332.50" stroke="#222" stroke-width="1"/>
<line x1="200.20" y1="340.50" x2="205.20" y2="340.50" stroke="#222" stroke-width="1"/>
<rect x="200.00" y="333.70" width="5.4" height="5.6" fill="none" stroke="#444" stroke-width="1"/>
<line x1="202.70" y1="317.40" x2="202.70" y2="325.40" stroke="#0000ff" stroke-width="1"/>
<line x1="200.20" y1="317.40" x2="205.20" y2="317.40" stroke="#0000ff" stroke-width="1"/>
<line x1="200.20" y1="325.40" x2="205.20" y2="325.40" stroke="#0000ff" stroke-width="1"/>
<circle cx="202.70" cy="321.40" r="2.9" fill="none" stroke="#0000ff" stroke-width="1"/>
<line x1="221.00" y1="322.30" x2="221.00" y2="330.30" stroke="#222" stroke-width="1"/>
<line x1="218.50" y1="322.30" x2="223.50" y2="322.30" stroke="#222" stroke-width="1"/>
<line x1="218.50" y1="330.30" x2="223.50" y2="330.30" stroke="#222" stroke-width="1"/>
<rect x="218.30" y="323.50" width="5.4" height="5.6" fill="none" stroke="#444" stroke-width="1"/>
<line x1="221.00" y1="322.30" x2="221.00" y2="330.30" stroke="#0000ff" stroke-width="1"/>
<line x1="218.50" y1="322.30" x2="223.50" y2="322.30" stroke="#0000ff" stroke-width="1"/>
<line x1="218.50" y1="330.30" x2="223.50" y2="330.30" stroke="#0000ff" stroke-width="1"/>
<circle cx="221.00" cy="326.30" r="2.9" fill="none" stroke="#0000ff" stroke-width="1"/>
<line x1="206.80" y1="317.90" x2="214.50" y2="317.90" stroke="#0000ff" stroke-width="1.7"/>
<path d="M221.8,317.9 L213.0,315.3 L213.0,320.5 Z" fill="#0000ff"/>
<rect x="322.20" y="208.20" width="163.60" height="136.80" fill="none" stroke="#444444" stroke-width="1.3"/>
<line x1="329.80" y1="345.00" x2="329.80" y2="351.30" stroke="#3a3a3a" stroke-width="1"/>
<line x1="329.80" y1="208.20" x2="329.80" y2="201.90" stroke="#3a3a3a" stroke-width="1"/>
<line x1="376.20" y1="345.00" x2="376.20" y2="351.30" stroke="#3a3a3a" stroke-width="1"/>
<line x1="376.20" y1="208.20" x2="376.20" y2="201.90" stroke="#3a3a3a" stroke-width="1"/>
<line x1="422.60" y1="345.00" x2="422.60" y2="351.30" stroke="#3a3a3a" stroke-width="1"/>
<line x1="422.60" y1="208.20" x2="422.60" y2="201.90" stroke="#3a3a3a" stroke-width="1"/>
<line x1="469.00" y1="345.00" x2="469.00" y2="351.30" stroke="#3a3a3a" stroke-width="1"/>
<line x1="469.00" y1="208.20" x2="469.00" y2="201.90" stroke="#3a3a3a" stroke-width="1"/>
<line x1="339.08" y1="345.00" x2="339.08" y2="348.50" stroke="#3a3a3a" stroke-width="1"/>
<line x1="339.08" y1="208.20" x2="339.08" y2="204.70" stroke="#3a3a3a" stroke-width="1"/>
<line x1="348.36" y1="345.00" x2="348.36" y2="348.50" stroke="#3a3a3a" stroke-width="1"/>
<line x1="348.36" y1="208.20" x2="348.36" y2="204.70" stroke="#3a3a3a" stroke-width="1"/>
<line x1="357.64" y1="345.00" x2="357.64" y2="348.50" stroke="#3a3a3a" stroke-width="1"/>
<line x1="357.64" y1="208.20" x2="357.64" y2="204.70" stroke="#3a3a3a" stroke-width="1"/>
<line x1="366.92" y1="345.00" x2="366.92" y2="348.50" stroke="#3a3a3a" stroke-width="1"/>
<line x1="366.92" y1="208.20" x2="366.92" y2="204.70" stroke="#3a3a3a" stroke-width="1"/>
<line x1="385.48" y1="345.00" x2="385.48" y2="348.50" stroke="#3a3a3a" stroke-width="1"/>
<line x1="385.48" y1="208.20" x2="385.48" y2="204.70" stroke="#3a3a3a" stroke-width="1"/>
<line x1="394.76" y1="345.00" x2="394.76" y2="348.50" stroke="#3a3a3a" stroke-width="1"/>
<line x1="394.76" y1="208.20" x2="394.76" y2="204.70" stroke="#3a3a3a" stroke-width="1"/>
<line x1="404.04" y1="345.00" x2="404.04" y2="348.50" stroke="#3a3a3a" stroke-width="1"/>
<line x1="404.04" y1="208.20" x2="404.04" y2="204.70" stroke="#3a3a3a" stroke-width="1"/>
<line x1="413.32" y1="345.00" x2="413.32" y2="348.50" stroke="#3a3a3a" stroke-width="1"/>
<line x1="413.32" y1="208.20" x2="413.32" y2="204.70" stroke="#3a3a3a" stroke-width="1"/>
<line x1="431.88" y1="345.00" x2="431.88" y2="348.50" stroke="#3a3a3a" stroke-width="1"/>
<line x1="431.88" y1="208.20" x2="431.88" y2="204.70" stroke="#3a3a3a" stroke-width="1"/>
<line x1="441.16" y1="345.00" x2="441.16" y2="348.50" stroke="#3a3a3a" stroke-width="1"/>
<line x1="441.16" y1="208.20" x2="441.16" y2="204.70" stroke="#3a3a3a" stroke-width="1"/>
<line x1="450.44" y1="345.00" x2="450.44" y2="348.50" stroke="#3a3a3a" stroke-width="1"/>
<line x1="450.44" y1="208.20" x2="450.44" y2="204.70" stroke="#3a3a3a" stroke-width="1"/>
<line x1="459.72" y1="345.00" x2="459.72" y2="348.50" stroke="#3a3a3a" stroke-width="1"/>
<line x1="459.72" y1="208.20" x2="459.72" y2="204.70" stroke="#3a3a3a" stroke-width="1"/>
<line x1="478.28" y1="345.00" x2="478.28" y2="348.50" stroke="#3a3a3a" stroke-width="1"/>
<line x1="478.28" y1="208.20" x2="478.28" y2="204.70" stroke="#3a3a3a" stroke-width="1"/>
<line x1="315.90" y1="323.30" x2="322.20" y2="323.30" stroke="#3a3a3a" stroke-width="1"/>
<line x1="485.80" y1="323.30" x2="492.10" y2="323.30" stroke="#3a3a3a" stroke-width="1"/>
<line x1="315.90" y1="251.30" x2="322.20" y2="251.30" stroke="#3a3a3a" stroke-width="1"/>
<line x1="485.80" y1="251.30" x2="492.10" y2="251.30" stroke="#3a3a3a" stroke-width="1"/>
<line x1="318.70" y1="305.30" x2="322.20" y2="305.30" stroke="#3a3a3a" stroke-width="1"/>
<line x1="485.80" y1="305.30" x2="489.30" y2="305.30" stroke="#3a3a3a" stroke-width="1"/>
<line x1="318.70" y1="287.30" x2="322.20" y2="287.30" stroke="#3a3a3a" stroke-width="1"/>
<line x1="485.80" y1="287.30" x2="489.30" y2="287.30" stroke="#3a3a3a" stroke-width="1"/>
<line x1="318.70" y1="269.30" x2="322.20" y2="269.30" stroke="#3a3a3a" stroke-width="1"/>
<line x1="485.80" y1="269.30" x2="489.30" y2="269.30" stroke="#3a3a3a" stroke-width="1"/>
<line x1="318.70" y1="233.30" x2="322.20" y2="233.30" stroke="#3a3a3a" stroke-width="1"/>
<line x1="485.80" y1="233.30" x2="489.30" y2="233.30" stroke="#3a3a3a" stroke-width="1"/>
<line x1="318.70" y1="215.30" x2="322.20" y2="215.30" stroke="#3a3a3a" stroke-width="1"/>
<line x1="485.80" y1="215.30" x2="489.30" y2="215.30" stroke="#3a3a3a" stroke-width="1"/>
<text x="496.10" y="327.40" font-size="11.4" text-anchor="start" fill="#1a1a1a" stroke="#1a1a1a" stroke-width="0.3" font-family='"Liberation Sans", sans-serif' >1.00</text>
<text x="496.10" y="255.40" font-size="11.4" text-anchor="start" fill="#1a1a1a" stroke="#1a1a1a" stroke-width="0.3" font-family='"Liberation Sans", sans-serif' >1.02</text>
<text x="329.80" y="365.80" font-size="11.4" text-anchor="middle" fill="#1a1a1a" stroke="#1a1a1a" stroke-width="0.3" font-family='"Liberation Sans", sans-serif' >-10</text>
<text x="376.20" y="365.80" font-size="11.4" text-anchor="middle" fill="#1a1a1a" stroke="#1a1a1a" stroke-width="0.3" font-family='"Liberation Sans", sans-serif' >0</text>
<text x="422.60" y="365.80" font-size="11.4" text-anchor="middle" fill="#1a1a1a" stroke="#1a1a1a" stroke-width="0.3" font-family='"Liberation Sans", sans-serif' >10</text>
<text x="469.00" y="365.80" font-size="11.4" text-anchor="middle" fill="#1a1a1a" stroke="#1a1a1a" stroke-width="0.3" font-family='"Liberation Sans", sans-serif' >20</text>
<text x="403.40" y="381.00" font-size="14" text-anchor="middle" fill="#1a1a1a" stroke="#1a1a1a" stroke-width="0.3" font-family='"Liberation Sans", sans-serif' >z scan position [mm]</text>
<text x="299.30" y="217.80" font-size="17" text-anchor="start" fill="#1a1a1a" stroke="#1a1a1a" stroke-width="0.3" font-family='"Liberation Sans", sans-serif' >d)</text>
<text transform="translate(529.0,277.2) rotate(90)" font-size="14" text-anchor="middle" fill="#1a1a1a" stroke="#1a1a1a" stroke-width="0.3" font-family='"Liberation Sans", sans-serif'><tspan fill="#ff0000" stroke="#ff0000">d</tspan><tspan fill="#ff0000" stroke="#ff0000" font-size="9.5" dy="3">I</tspan><tspan dy="-3"> = </tspan><tspan fill="#0000ee" stroke="#0000ee">2x I</tspan><tspan fill="#0000ee" stroke="#0000ee" font-size="9.5" dy="3">wat</tspan><tspan dy="-3"> - I</tspan><tspan font-size="9.5" dy="3">0</tspan></text>
<rect x="303.3" y="285.3" width="4.4" height="4.4" fill="none" stroke="#222" stroke-width="0.9"/>
<path d="M329.80,275.35 L330.80,273.97 L331.79,272.58 L332.79,271.18 L333.79,269.77 L334.78,268.36 L335.78,266.95 L336.78,265.54 L337.77,264.13 L338.77,262.72 L339.77,261.32 L340.76,259.92 L341.76,258.54 L342.75,257.16 L343.75,255.79 L344.75,254.44 L345.74,253.10 L346.74,251.78 L347.74,250.49 L348.73,249.21 L349.73,247.95 L350.73,246.72 L351.72,245.52 L352.72,244.35 L353.72,243.21 L354.71,242.09 L355.71,241.02 L356.71,239.98 L357.70,238.98 L358.70,238.01 L359.70,237.09 L360.69,236.21 L361.69,235.38 L362.68,234.59 L363.68,233.84 L364.68,233.15 L365.67,232.50 L366.67,231.91 L367.67,231.36 L368.66,230.87 L369.66,230.43 L370.66,230.04 L371.65,229.71 L372.65,229.44 L373.65,229.22 L374.64,229.05 L375.64,228.95 L376.64,228.89 L377.63,228.90 L378.63,228.96 L379.63,229.08 L380.62,229.26 L381.62,229.49 L382.62,229.77 L383.61,230.11 L384.61,230.51 L385.60,230.96 L386.60,231.46 L387.60,232.02 L388.59,232.62 L389.59,233.28 L390.59,233.98 L391.58,234.73 L392.58,235.53 L393.58,236.38 L394.57,237.26 L395.57,238.19 L396.57,239.16 L397.56,240.17 L398.56,241.22 L399.56,242.30 L400.55,243.42 L401.55,244.57 L402.55,245.75 L403.54,246.95 L404.54,248.19 L405.53,249.45 L406.53,250.73 L407.53,252.03 L408.52,253.36 L409.52,254.69 L410.52,256.05 L411.51,257.42 L412.51,258.80 L413.51,260.19 L414.50,261.59 L415.50,262.99 L416.50,264.40 L417.49,265.81 L418.49,267.22 L419.49,268.63 L420.48,270.04 L421.48,271.44 L422.48,272.84 L423.47,274.23 L424.47,275.61 L425.46,276.99 L426.46,278.35 L427.46,279.70 L428.45,281.04 L429.45,282.36 L430.45,283.66 L431.44,284.95 L432.44,286.22 L433.44,287.47 L434.43,288.70 L435.43,289.92 L436.43,291.11 L437.42,292.27 L438.42,293.42 L439.42,294.54 L440.41,295.64 L441.41,296.72 L442.41,297.77 L443.40,298.80 L444.40,299.80 L445.40,300.78 L446.39,301.73 L447.39,302.66 L448.38,303.56 L449.38,304.44 L450.38,305.29 L451.37,306.11 L452.37,306.92 L453.37,307.69 L454.36,308.44 L455.36,309.17 L456.36,309.88 L457.35,310.55 L458.35,311.21 L459.35,311.84 L460.34,312.45 L461.34,313.04 L462.34,313.61 L463.33,314.15 L464.33,314.67 L465.33,315.17 L466.32,315.65 L467.32,316.12 L468.31,316.56 L469.31,316.98 L470.31,317.39 L471.30,317.78 L472.30,318.15 L473.30,318.50 L474.29,318.84 L475.29,319.16 L476.29,319.47 L477.28,319.76 L478.28,320.04" fill="none" stroke="#ff0000" stroke-width="2.0" stroke-linejoin="round" stroke-linecap="round"/>
<path d="M329.80,267.80 L336.40,279.20 L323.20,279.20 Z" fill="none" stroke="#ff6a6a" stroke-width="1"/>
<line x1="329.80" y1="265.60" x2="329.80" y2="285.20" stroke="#ff2020" stroke-width="1.1"/>
<line x1="327.05" y1="265.60" x2="332.55" y2="265.60" stroke="#ff2020" stroke-width="1.1"/>
<line x1="327.05" y1="285.20" x2="332.55" y2="285.20" stroke="#ff2020" stroke-width="1.1"/>
<path d="M348.36,242.80 L354.96,254.20 L341.76,254.20 Z" fill="none" stroke="#ff6a6a" stroke-width="1"/>
<line x1="348.36" y1="240.60" x2="348.36" y2="260.20" stroke="#ff2020" stroke-width="1.1"/>
<line x1="345.61" y1="240.60" x2="351.11" y2="240.60" stroke="#ff2020" stroke-width="1.1"/>
<line x1="345.61" y1="260.20" x2="351.11" y2="260.20" stroke="#ff2020" stroke-width="1.1"/>
<path d="M366.92,226.80 L373.52,238.20 L360.32,238.20 Z" fill="none" stroke="#ff6a6a" stroke-width="1"/>
<line x1="366.92" y1="224.60" x2="366.92" y2="244.20" stroke="#ff2020" stroke-width="1.1"/>
<line x1="364.17" y1="224.60" x2="369.67" y2="224.60" stroke="#ff2020" stroke-width="1.1"/>
<line x1="364.17" y1="244.20" x2="369.67" y2="244.20" stroke="#ff2020" stroke-width="1.1"/>
<path d="M385.48,220.00 L392.08,231.40 L378.88,231.40 Z" fill="none" stroke="#ff6a6a" stroke-width="1"/>
<line x1="385.48" y1="217.80" x2="385.48" y2="237.40" stroke="#ff2020" stroke-width="1.1"/>
<line x1="382.73" y1="217.80" x2="388.23" y2="217.80" stroke="#ff2020" stroke-width="1.1"/>
<line x1="382.73" y1="237.40" x2="388.23" y2="237.40" stroke="#ff2020" stroke-width="1.1"/>
<path d="M404.04,240.70 L410.64,252.10 L397.44,252.10 Z" fill="none" stroke="#ff6a6a" stroke-width="1"/>
<line x1="404.04" y1="238.50" x2="404.04" y2="258.10" stroke="#ff2020" stroke-width="1.1"/>
<line x1="401.29" y1="238.50" x2="406.79" y2="238.50" stroke="#ff2020" stroke-width="1.1"/>
<line x1="401.29" y1="258.10" x2="406.79" y2="258.10" stroke="#ff2020" stroke-width="1.1"/>
<path d="M422.60,261.00 L429.20,272.40 L416.00,272.40 Z" fill="none" stroke="#ff6a6a" stroke-width="1"/>
<line x1="422.60" y1="258.80" x2="422.60" y2="278.40" stroke="#ff2020" stroke-width="1.1"/>
<line x1="419.85" y1="258.80" x2="425.35" y2="258.80" stroke="#ff2020" stroke-width="1.1"/>
<line x1="419.85" y1="278.40" x2="425.35" y2="278.40" stroke="#ff2020" stroke-width="1.1"/>
<path d="M441.16,302.60 L447.76,314.00 L434.56,314.00 Z" fill="none" stroke="#ff6a6a" stroke-width="1"/>
<line x1="441.16" y1="300.40" x2="441.16" y2="320.00" stroke="#ff2020" stroke-width="1.1"/>
<line x1="438.41" y1="300.40" x2="443.91" y2="300.40" stroke="#ff2020" stroke-width="1.1"/>
<line x1="438.41" y1="320.00" x2="443.91" y2="320.00" stroke="#ff2020" stroke-width="1.1"/>
<path d="M459.72,284.80 L466.32,296.20 L453.12,296.20 Z" fill="none" stroke="#ff6a6a" stroke-width="1"/>
<line x1="459.72" y1="282.60" x2="459.72" y2="302.20" stroke="#ff2020" stroke-width="1.1"/>
<line x1="456.97" y1="282.60" x2="462.47" y2="282.60" stroke="#ff2020" stroke-width="1.1"/>
<line x1="456.97" y1="302.20" x2="462.47" y2="302.20" stroke="#ff2020" stroke-width="1.1"/>
<path d="M478.28,320.60 L484.88,332.00 L471.68,332.00 Z" fill="none" stroke="#ff6a6a" stroke-width="1"/>
<line x1="478.28" y1="318.40" x2="478.28" y2="338.00" stroke="#ff2020" stroke-width="1.1"/>
<line x1="475.53" y1="318.40" x2="481.03" y2="318.40" stroke="#ff2020" stroke-width="1.1"/>
<line x1="475.53" y1="338.00" x2="481.03" y2="338.00" stroke="#ff2020" stroke-width="1.1"/>
<path d="M332.0,297.6 L336.4,304.8 L327.6,304.8 Z" fill="none" stroke="#ff6a6a" stroke-width="1"/>
<text x="345.10" y="305.30" font-size="11.1" text-anchor="start" fill="#1a1a1a" stroke="#1a1a1a" stroke-width="0.3" font-family='"Liberation Sans", sans-serif' textLength="91.4" lengthAdjust="spacingAndGlyphs">Nonlinear intensity</text>
<text x="327.60" y="319.50" font-size="11.25" text-anchor="start" fill="#1a1a1a" stroke="#1a1a1a" stroke-width="0.3" font-family='"Liberation Sans", sans-serif' >trans. of 100 &#956;m H<tspan font-size="8.2" dy="3">2</tspan><tspan dy="-3">O</tspan></text>
</svg>
</body></html>
